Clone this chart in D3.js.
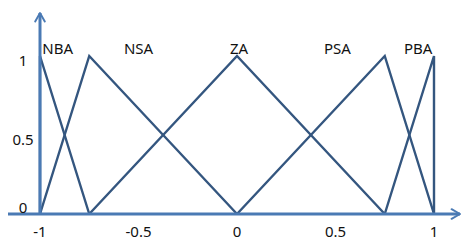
<!DOCTYPE html>
<html>
<head>
<meta charset="utf-8">
<script src="https://cdn.jsdelivr.net/npm/d3@7"></script>
<style>
  html, body { margin: 0; padding: 0; background: #fff; }
  svg { display: block; }
  text { font-family: "Noto Sans", "Open Sans", sans-serif; fill: #111; }
</style>
</head>
<body>
<script>
// Fuzzy membership functions on the normalised universe [-1, 1]
const setNames = ["NBA", "NSA", "ZA", "PSA", "PBA"];
const setX = [
  [-1, -1, -0.75],
  [-1, -0.75, 0],
  [-0.75, 0, 0.75],
  [0, 0.75, 1],
  [0.75, 1, 1]
];
const setY = [
  [0, 1, 0],
  [0, 1, 0],
  [0, 1, 0],
  [0, 1, 0],
  [0, 1, 0]
];
const labelX = [-0.91, -0.5, 0.01, 0.51, 0.92];
const xTicks = [-1, -0.5, 0, 0.5, 1];
const xTickLabels = ["-1", "-0.5", "0", "0.5", "1"];
const yTicks = [0, 0.5, 1];
const yTickLabels = ["0", "0.5", "1"];

const W = 474, H = 249;
const svg = d3.select("body").append("svg").attr("width", W).attr("height", H);

const x = d3.scaleLinear().domain([-1, 1]).range([40, 434]);
const y = d3.scaleLinear().domain([0, 1]).range([214, 56]);

const axisColor = "#4a7ab4";
const lineColor = "#34567f";

// arrow heads
const defs = svg.append("defs");
defs.append("marker")
  .attr("id", "arrow")
  .attr("viewBox", "0 0 10 10")
  .attr("refX", 8).attr("refY", 5)
  .attr("markerWidth", 4).attr("markerHeight", 4)
  .attr("orient", "auto")
  .append("path")
  .attr("d", "M1,1 L8,5 L1,9")
  .attr("fill", "none")
  .attr("stroke", axisColor)
  .attr("stroke-width", 1.6)
  .attr("stroke-linecap", "round")
  .attr("stroke-linejoin", "round");

// membership triangles
const line = d3.line().x(d => x(d[0])).y(d => y(d[1]));
setX.forEach((xs, i) => {
  const pts = xs.map((v, j) => [v, setY[i][j]]);
  svg.append("path")
    .attr("d", line(pts))
    .attr("fill", "none")
    .attr("stroke", lineColor)
    .attr("stroke-width", 2.4)
    .attr("stroke-linejoin", "miter");
});

// axes
svg.append("line")
  .attr("x1", 8).attr("y1", y(0))
  .attr("x2", 460).attr("y2", y(0))
  .attr("stroke", axisColor).attr("stroke-width", 3)
  .attr("marker-end", "url(#arrow)");
svg.append("line")
  .attr("x1", x(-1)).attr("y1", y(0))
  .attr("x2", x(-1)).attr("y2", 13)
  .attr("stroke", axisColor).attr("stroke-width", 3)
  .attr("marker-end", "url(#arrow)");

// tick labels
svg.selectAll(".xt").data(xTicks).enter().append("text")
  .attr("x", d => x(d))
  .attr("y", 237)
  .attr("text-anchor", "middle")
  .attr("font-size", 15)
  .text((d, i) => xTickLabels[i]);

svg.selectAll(".yt").data(yTicks).enter().append("text")
  .attr("x", 23)
  .attr("y", d => y(d) + (d === 0 ? -1 : 10))
  .attr("text-anchor", "middle")
  .attr("font-size", 15)
  .text((d, i) => yTickLabels[i]);

// set names
svg.selectAll(".nm").data(setNames).enter().append("text")
  .attr("x", (d, i) => x(labelX[i]))
  .attr("y", 54)
  .attr("text-anchor", "middle")
  .attr("font-size", 15)
  .text(d => d);
</script>
</body>
</html>
